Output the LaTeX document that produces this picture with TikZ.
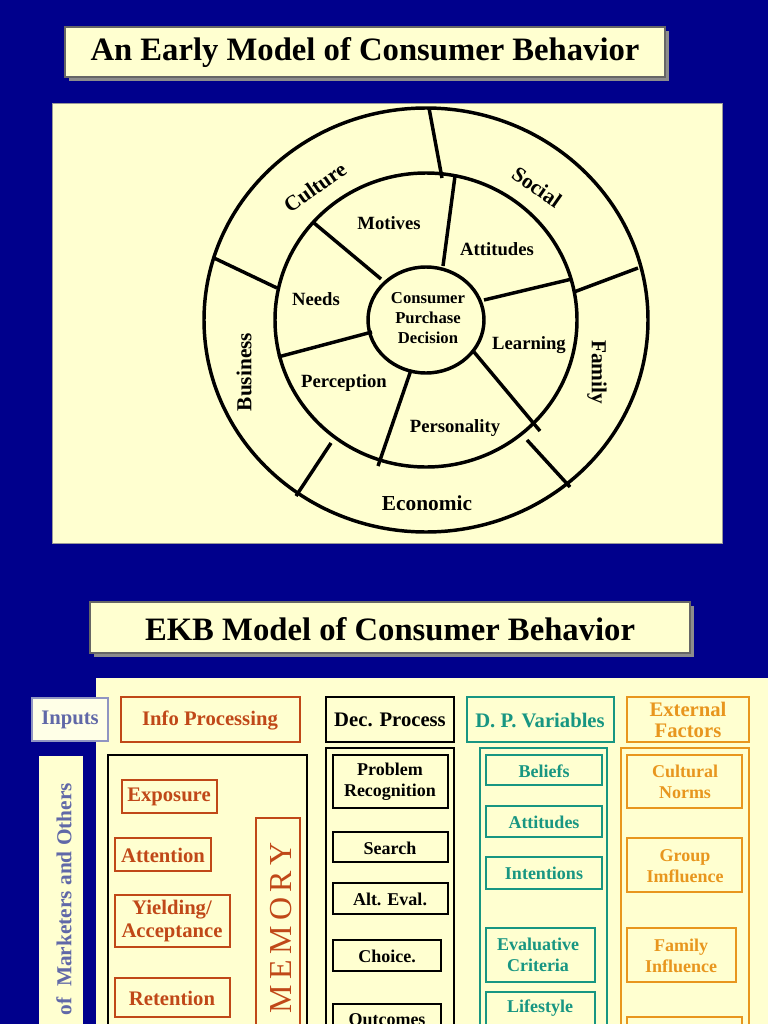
\documentclass[tikz,border=0pt]{standalone}
\usepackage{fontspec}
\setmainfont{Liberation Serif}
\begin{document}
\definecolor{navy}{RGB}{0,0,140}
\definecolor{cream}{RGB}{255,255,208}
\definecolor{rust}{RGB}{192,72,24}
\definecolor{teal}{RGB}{24,150,130}
\definecolor{amber}{RGB}{232,150,30}
\definecolor{slate}{RGB}{96,104,168}
\begin{tikzpicture}[x=0.75pt,y=-0.75pt,
  tt/.style={font=\bfseries\fontsize{24.5}{28}\selectfont},
  ring/.style={line width=2.6pt},
  rl/.style={font=\bfseries\fontsize{16}{18}\selectfont},
  il/.style={font=\bfseries\fontsize{14}{16}\selectfont},
  hf/.style={font=\bfseries\fontsize{15.5}{17}\selectfont},
  bx/.style={draw,line width=0.8pt},
  sb/.style={font=\bfseries\fontsize{13.5}{15.5}\selectfont,align=center}]
\fill[navy] (0,0) rectangle (768,1024);
\useasboundingbox (0,0) rectangle (768,1024);
% top title
\fill[black!45] (69,31) rectangle (669,81);
\draw[black!60,fill=cream,line width=0.8pt] (65,27) rectangle (665,77);
\node[tt] (t1) at (365,53) {An Early Model of Consumer Behavior};
% top panel
\draw[fill=cream,draw=black!40] (52,103) rectangle (722,543);
\coordinate (c) at (426,320);
\draw[ring] (c) ellipse [x radius=222,y radius=212];
\draw[ring] (c) ellipse [x radius=151,y radius=147];
\draw[ring] (c) ellipse [x radius=58,y radius=53];
% outer dividers
\draw[ring] (429,108)--(442,178);
\draw[ring] (638,268)--(574,292);
\draw[ring] (570,487)--(527,440);
\draw[ring] (331,443)--(296,496);
\draw[ring] (214,258)--(277,288);
% inner dividers
\draw[ring] (314,223)--(381,279);
\draw[ring] (455,176)--(443,266);
\draw[ring] (572,279)--(484,300);
\draw[ring] (540,431)--(474,352);
\draw[ring] (411,370)--(378,466);
\draw[ring] (278,357)--(372,332);
\node[rl,rotate=35] (cu) at (315,187) {Culture};
\node[rl,rotate=-35] (so) at (537,187) {Social};
\node[rl,rotate=-90] (fa) at (597,372) {Family};
\node[rl,rotate=90] (bu) at (244,372) {Business};
\node[rl] (ec) at (427,503) {Economic};
\node[il] (mo) at (389,223) {Motives};
\node[il] (at) at (497,249) {Attitudes};
\node[il] (ne) at (316,299) {Needs};
\node[il] (le) at (529,345) {Learning};
\node[il] (pe) at (344,383) {Perception};
\node[il] (ps) at (455,428) {Personality};
\node[font=\bfseries\fontsize{12.5}{15}\selectfont,align=center] (cp) at (428,318) {Consumer\\Purchase\\Decision};
% bottom title
\fill[black!45] (94,606) rectangle (694,657);
\draw[black!60,fill=cream,line width=0.8pt] (90,602) rectangle (690,653);
\node[tt] (t2) at (390,629) {EKB Model of Consumer Behavior};
% bottom panel
\fill[cream] (96,678) rectangle (768,1024);
\draw[slate!70,fill=cream!50!white,line width=0.8pt] (32,698) rectangle (108,741);
\node[hf,text=slate] (inp) at (70,720) {Inputs};
\fill[cream] (39,756) rectangle (83,1030);
\node[font=\bfseries\fontsize{16}{18}\selectfont,text=slate,rotate=90,anchor=west] (mk) at (64,1020) {of\ \ Marketers and Others};
% info processing
\draw[rust,line width=0.8pt] (121,697) rectangle (300,742);
\node[hf,text=rust] (ip) at (210,720) {Info Processing};
\draw[line width=0.8pt] (108,755) rectangle (307,1030);
\draw[bx,rust] (122,780) rectangle (217,813); \node[hf,text=rust,align=center] (ex) at (169,797) {Exposure};
\draw[bx,rust] (115,838) rectangle (211,871); \node[hf,text=rust,align=center] (att) at (163,855) {Attention};
\draw[bx,rust] (115,895) rectangle (230,947); \node[hf,text=rust,align=center] (yi) at (172,921) {Yielding/\\Acceptance};
\draw[bx,rust] (115,978) rectangle (230,1017); \node[hf,text=rust,align=center] (re) at (172,998) {Retention};
\draw[rust,line width=2pt] (256,1030) -- (256,818) -- (300,818) -- (300,1030);
\node[rotate=90,text=rust,font=\fontsize{24}{26}\selectfont,anchor=west] (mem) at (281,1018) {M\,E\,M\,O\,R\,Y};
% dec process
\draw[line width=0.8pt] (326,697) rectangle (454,742);
\node[hf] (dp) at (390,720) {Dec. Process};
\draw[line width=0.8pt] (326,748) rectangle (454,1030);
\draw[bx] (333,755) rectangle (448,808); \node[sb] (pr) at (390,782) {Problem\\Recognition};
\draw[bx] (333,832) rectangle (448,862); \node[sb] (se) at (390,848) {Search};
\draw[bx] (333,883) rectangle (448,914); \node[sb] (ae) at (390,899) {Alt. Eval.};
\draw[bx] (333,940) rectangle (441,971); \node[sb] (ch) at (387,956) {Choice.};
\draw[bx] (333,1004) rectangle (441,1030); \node[sb,anchor=north] (ou) at (387,1009) {Outcomes};
% DP variables
\draw[teal,line width=0.8pt] (467,697) rectangle (614,742);
\node[hf,text=teal] (dpv) at (540,720) {D. P. Variables};
\draw[teal,line width=0.8pt] (480,748) rectangle (607,1030);
\draw[bx,teal] (486,755) rectangle (602,785); \node[sb,text=teal] (be) at (544,771) {Beliefs};
\draw[bx,teal] (486,806) rectangle (602,837); \node[sb,text=teal] (at2) at (544,822) {Attitudes};
\draw[bx,teal] (486,857) rectangle (602,889); \node[sb,text=teal] (in) at (544,873) {Intentions};
\draw[bx,teal] (486,928) rectangle (595,982); \node[sb,text=teal] (ev) at (538,955) {Evaluative\\Criteria};
\draw[bx,teal] (486,992) rectangle (595,1030); \node[sb,text=teal] (li) at (540,1008) {Lifestyle};
% external
\draw[amber,line width=0.8pt] (627,697) rectangle (749,742);
\node[hf,text=amber,align=center,font=\bfseries\fontsize{15.5}{16}\selectfont] (ef) at (688,720) {External\\Factors};
\draw[amber,line width=0.8pt] (621,748) rectangle (749,1030);
\draw[bx,amber] (627,755) rectangle (742,808); \node[sb,text=amber] (cn) at (685,782) {Cultural\\Norms};
\draw[bx,amber] (627,838) rectangle (742,892); \node[sb,text=amber] (gi) at (685,866) {Group\\Imfluence};
\draw[bx,amber] (627,928) rectangle (736,982); \node[sb,text=amber] (fi) at (681,956) {Family\\Influence};
\draw[bx,amber] (627,1017) rectangle (742,1030);
\end{tikzpicture}
\end{document}
